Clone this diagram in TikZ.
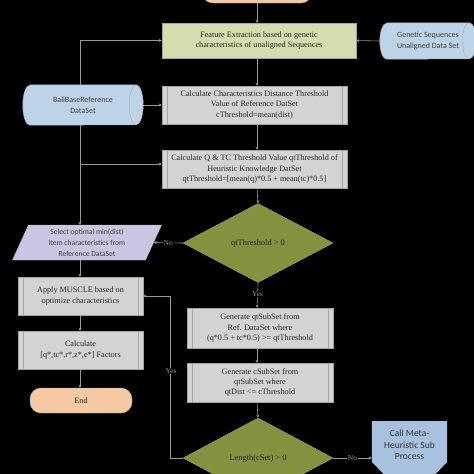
\documentclass[tikz,border=0pt]{standalone}
\usepackage{fontspec}
\setmainfont{Liberation Serif}
\newfontfamily\calfont{Carlito}
\usepackage{xcolor}
\usepackage{tikz}
\usetikzlibrary{shapes, arrows.meta, positioning, calc, backgrounds}

\definecolor{linegray}{HTML}{9A9A9A}
\definecolor{featgreen}{HTML}{D6DCAD}
\definecolor{boxgray}{HTML}{D3D3D3}
\definecolor{diagreen}{HTML}{84923F}
\definecolor{lavender}{HTML}{C9C5E2}
\definecolor{cylblue}{HTML}{BDD3E8}
\definecolor{peach}{HTML}{F5C9A2}
\definecolor{metablue}{HTML}{A8C1DF}

\tikzset{
  arr/.style={draw=linegray, line width=0.6pt, -{Stealth[length=3pt,width=3pt]}},
  procbox/.style={rectangle, draw=gray!70, fill=boxgray, inner sep=0pt, align=center,
    text=black!85, font=\fontsize{8.2}{10.3}\selectfont},
  terminal/.style={rectangle, rounded corners=11pt, draw=gray!60, fill=peach, inner sep=0pt,
    text=black!85, font=\fontsize{8.2}{10.3}\selectfont},
  decision/.style={diamond, fill=diagreen, draw=diagreen!80!white, inner sep=0pt, aspect=1.9,
    text=black!85, font=\fontsize{8.4}{10.3}\selectfont},
  database/.style={rectangle, inner sep=0pt, align=center, text=black!75,
    font=\calfont\fontsize{8}{11.2}\selectfont},
  lbl/.style={fill=black, text=linegray, inner sep=1pt, font=\fontsize{7.5}{8}\selectfont}
}

% double bars of a predefined process box
\newcommand{\sidebars}[1]{
  \draw[gray!70, line width=0.5pt] ($(#1.north west)+(5,0)$) -- ($(#1.south west)+(5,0)$);
  \draw[gray!70, line width=0.5pt] ($(#1.north east)+(-5,0)$) -- ($(#1.south east)+(-5,0)$);
}
% lying cylinder round a database node, #2 = half height
\newcommand{\dbcyl}[2]{
  \filldraw[fill=cylblue, draw=gray!60, line width=0.5pt]
    ($(#1.north west)+(7,0)$) -- ($(#1.north east)+(-7,0)$)
    arc[start angle=-90, end angle=90, x radius=7, y radius=#2]
    -- ($(#1.south west)+(7,0)$)
    arc[start angle=90, end angle=270, x radius=7, y radius=#2] -- cycle;
  \draw[gray!60, line width=0.5pt] ($(#1.north east)+(-7,0)$)
    arc[start angle=-90, end angle=-270, x radius=7, y radius=#2];
}

\begin{document}
\begin{tikzpicture}[x=1pt, y=-1pt]
  % canvas
  \begin{scope}[on background layer]
    \fill[black] (0,0) rectangle (474,474);
  \end{scope}
  \useasboundingbox (0,0) rectangle (474,474);
  \clip (0,0) rectangle (474,474);

  % column guides
  \coordinate (mainx) at (257,0);
  \coordinate (leftx) at (80,0);
  \coordinate (loopx) at (170,0);

  % top terminal (cut by the frame)
  \node[terminal, minimum width=110pt, minimum height=18pt] (start) at (257,-6) {};

  \node[procbox, fill=featgreen, minimum width=194pt, minimum height=35pt] (feat) at (259,40.5)
    {Feature Extraction based on genetic\\characteristics of unaligned Sequences};
  \node[database, minimum width=96pt, minimum height=36pt] (gen) at (428,41)
    {Genetic Sequences\\Unaligned Data Set};
  \node[database, minimum width=120pt, minimum height=40pt] (bali) at (83,105)
    {BaliBaseReference\\DataSet};
  \begin{scope}[on background layer]
    \dbcyl{gen}{18}
    \dbcyl{bali}{20}
  \end{scope}

  \node[procbox, minimum width=185pt, minimum height=38pt] (calcd) at (254.5,105)
    {Calculate Characteristics Distance Threshold\\Value of Reference DatSet\\cThreshold=mean(dist)};
  \node[procbox, minimum width=185pt, minimum height=38pt] (calcq) at (254.5,169)
    {Calculate Q \& TC Threshold Value qtThreshold of\\Heuristic Knowledge DatSet\\qtThreshold=[mean(q)*0.5 + mean(tc)*0.5]};
  \sidebars{calcd}
  \sidebars{calcq}

  \node[decision, minimum width=150pt, minimum height=79pt] (qt) at (258,243) {qtThreshold > 0};

  \node[trapezium, trapezium left angle=69, trapezium right angle=111, trapezium stretches=true,
    minimum width=150pt, minimum height=35pt, fill=lavender, draw=gray!50, inner sep=0pt,
    align=center, text=black!75, font=\calfont\fontsize{7.6}{10.8}\selectfont] (par) at (87,242.5)
    {Select optimal min(dist)\\item characteristics from\\Reference DataSet};

  \node[procbox, minimum width=125pt, minimum height=38pt] (mus) at (80.5,296)
    {Apply MUSCLE based on\\optimize characteristics};
  \node[procbox, minimum width=125pt, minimum height=38pt] (fac) at (80.5,350)
    {Calculate\\{}[q*,tc*,r*,z*,e*] Factors};
  \node[terminal, minimum width=102pt, minimum height=25pt] (endn) at (81,400.5) {End};
  \sidebars{mus}
  \sidebars{fac}

  \node[procbox, minimum width=146pt, minimum height=40pt] (sub1) at (260,328)
    {Generate qtSubSet from\\Ref. DataSet where\\(q*0.5 + tc*0.5) >= qtThreshold};
  \node[procbox, minimum width=146pt, minimum height=39pt] (sub2) at (260,382.5)
    {Generate cSubSet from\\qtSubSet where\\qtDist <= cThreshold};
  \sidebars{sub1}
  \sidebars{sub2}

  \node[decision, minimum width=150pt, minimum height=80pt] (len) at (258,458) {Length(cSet) > 0};

  % off-page shape
  \node[align=center, minimum width=75pt, inner sep=0pt, text=black!80,
    font=\calfont\fontsize{9.5}{11.5}\selectfont] (meta) at (409.5,445)
    {Call Meta-\\Heuristic Sub\\Process};
  \begin{scope}[on background layer]
    \fill[metablue] (meta.west |- 0,421) -- (meta.east |- 0,421) -- (meta.east |- 0,462)
      -- (409.5,500) -- (meta.west |- 0,462) -- cycle;
  \end{scope}

  % main column
  \draw[arr] (start.south -| mainx) -- (feat.north -| mainx);
  \draw[arr] (gen.west) -- (feat.east);
  \draw[arr] (feat.south -| mainx) -- (calcd.north -| mainx);
  \draw[arr] (calcd.south -| mainx) -- (calcq.north -| mainx);
  \draw[arr] (calcq.south -| mainx) -- (qt.north);
  \draw[arr] (qt.south) -- (sub1.north -| mainx) node[pos=0.45, lbl] {Yes};
  \draw[arr] (sub1.south -| mainx) -- (sub2.north -| mainx);
  \draw[arr] (sub2.south -| mainx) -- (len.north);

  % reference data links
  \draw[arr] (bali.north -| leftx) |- (feat.west);
  \draw[arr] (bali.east) -- (calcd.west);
  \draw[arr] (leftx |- 0,164) -- (calcq.west |- 0,164);
  \draw[arr] (bali.south -| leftx) -- (par.north -| leftx);

  % left column
  \draw[arr] (qt.west) -- (par.east) node[midway, lbl] {No};
  \draw[arr] (par.south -| leftx) -- (mus.north -| leftx);
  \draw[arr] (mus.south -| leftx) -- (fac.north -| leftx);
  \draw[arr] (fac.south -| leftx) -- (endn.north -| leftx);

  % loop back
  \draw[arr] (len.west) -- (len.west -| loopx) |- (mus.east);
  \node[lbl] (yeslbl) at (171,371) {Yes};
  \draw[arr] (len.east) -- (meta.west |- len.east) node[midway, lbl] {No};
\end{tikzpicture}
\end{document}
